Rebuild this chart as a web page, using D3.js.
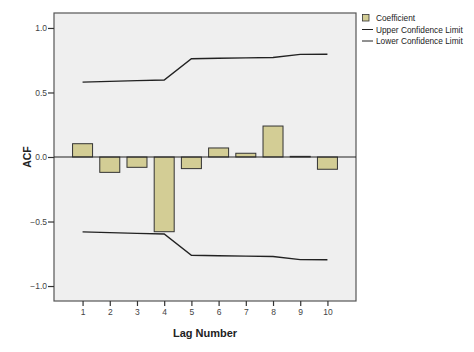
<!DOCTYPE html>
<html>
<head>
<meta charset="utf-8">
<script src="https://cdn.jsdelivr.net/npm/d3@7"></script>
<style>
  body { margin: 0; background: #fff; }
  text { font-family: "Liberation Sans", Arial, sans-serif; }
</style>
</head>
<body>
<div id="chart"></div>
<script>
const lags = [1, 2, 3, 4, 5, 6, 7, 8, 9, 10];
const coefficient = [0.103, -0.119, -0.08, -0.579, -0.09, 0.07, 0.029, 0.24, 0.005, -0.095];
const upperLimit = [0.58, 0.586, 0.592, 0.597, 0.762, 0.765, 0.768, 0.771, 0.795, 0.796];
const lowerLimit = [-0.58, -0.586, -0.592, -0.597, -0.762, -0.765, -0.768, -0.771, -0.795, -0.796];
const yTicks = [-1.0, -0.5, 0.0, 0.5, 1.0];
const legendItems = ["Coefficient", "Upper Confidence Limit", "Lower Confidence Limit"];

const W = 474, H = 352;
const plot = { left: 54, top: 13, right: 356, bottom: 301 };

const svg = d3.select("#chart").append("svg")
  .attr("width", W)
  .attr("height", H);

const x = d3.scaleLinear().domain([-0.05, 11.05]).range([plot.left, plot.right]);
const y = d3.scaleLinear().domain([-1.116, 1.116]).range([plot.bottom, plot.top]);

// plot background
svg.append("rect")
  .attr("x", plot.left)
  .attr("y", plot.top)
  .attr("width", plot.right - plot.left)
  .attr("height", plot.bottom - plot.top)
  .attr("fill", "#efefef")
  .attr("stroke", "#555")
  .attr("stroke-width", 1.2);

// bars
const barW = 20;
svg.selectAll(".bar")
  .data(lags)
  .join("rect")
  .attr("class", "bar")
  .attr("x", (d, i) => x(d) - barW / 2)
  .attr("y", (d, i) => y(Math.max(0, coefficient[i])))
  .attr("width", barW)
  .attr("height", (d, i) => Math.abs(y(coefficient[i]) - y(0)))
  .attr("fill", "#d3cd95")
  .attr("stroke", "#333")
  .attr("stroke-width", 1);

// zero line
svg.append("line")
  .attr("x1", plot.left)
  .attr("x2", plot.right)
  .attr("y1", y(0))
  .attr("y2", y(0))
  .attr("stroke", "#222")
  .attr("stroke-width", 1.2);

// confidence limits
const line = d3.line()
  .x((d, i) => x(lags[i]))
  .y(d => y(d));

[upperLimit, lowerLimit].forEach(s => {
  svg.append("path")
    .datum(s)
    .attr("fill", "none")
    .attr("stroke", "#222")
    .attr("stroke-width", 1.4)
    .attr("d", line);
});

// axes
const yAxis = svg.append("g")
  .attr("transform", `translate(${plot.left},0)`)
  .call(d3.axisLeft(y).tickValues(yTicks).tickFormat(d3.format(".1f")).tickSize(6).tickSizeOuter(0));
yAxis.select(".domain").remove();
yAxis.selectAll("line").attr("stroke", "#333").attr("stroke-width", 1.2);
yAxis.selectAll("text")
  .attr("fill", "#444")
  .style("font-size", "8.5px")
  .attr("x", -7);

const xAxis = svg.append("g")
  .attr("transform", `translate(0,${plot.bottom})`)
  .call(d3.axisBottom(x).tickValues(lags).tickFormat(d3.format("d")).tickSize(5).tickSizeOuter(0));
xAxis.select(".domain").remove();
xAxis.selectAll("line").attr("stroke", "#333").attr("stroke-width", 1.2);
xAxis.selectAll("text")
  .attr("fill", "#444")
  .style("font-size", "8.5px")
  .attr("y", 8);

// axis titles
svg.append("text")
  .attr("transform", `translate(31,${y(0)}) rotate(-90)`)
  .attr("text-anchor", "middle")
  .style("font-size", "10.5px")
  .style("font-weight", "bold")
  .attr("fill", "#222")
  .text("ACF");

svg.append("text")
  .attr("x", (plot.left + plot.right) / 2)
  .attr("y", 337)
  .attr("text-anchor", "middle")
  .style("font-size", "11px")
  .style("font-weight", "bold")
  .attr("fill", "#222")
  .text("Lag Number");

// legend
const legend = svg.append("g").attr("transform", "translate(362,0)");
legendItems.forEach((key, i) => {
  const cy = 18 + i * 11.5;
  if (i === 0) {
    legend.append("rect")
      .attr("x", 0.5)
      .attr("y", cy - 3.5)
      .attr("width", 6.5)
      .attr("height", 6.5)
      .attr("fill", "#d3cd95")
      .attr("stroke", "#333")
      .attr("stroke-width", 0.8);
  } else {
    legend.append("line")
      .attr("x1", 0)
      .attr("x2", 11)
      .attr("y1", cy)
      .attr("y2", cy)
      .attr("stroke", "#222")
      .attr("stroke-width", 1);
  }
  legend.append("text")
    .attr("x", 14)
    .attr("y", cy + 3)
    .style("font-size", "8.3px")
    .attr("fill", "#222")
    .text(key);
});
</script>
</body>
</html>
